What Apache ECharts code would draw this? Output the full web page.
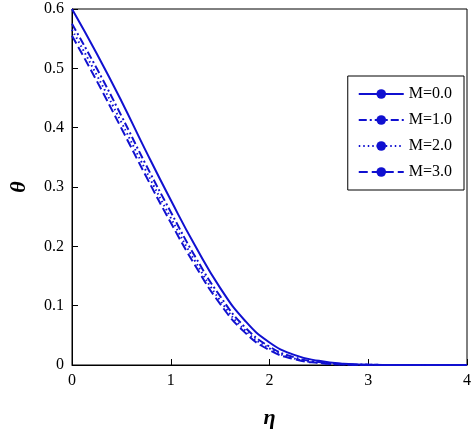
<!DOCTYPE html><html><head><meta charset="utf-8"><script src="https://cdn.jsdelivr.net/npm/echarts@6/dist/echarts.min.js"></script></head><body style="margin:0"><div id="c" style="width:474px;height:434px"></div><script>
const eta=[0,0.25,0.5,0.75,1,1.25,1.5,1.75,2,2.25,2.5,2.75,3,3.5,4];
const names=['M=0.0','M=1.0','M=2.0','M=3.0'];
const m0=[0.600,0.525,0.445,0.360,0.278,0.200,0.130,0.075,0.038,0.017,0.007,0.002,0.0005,0,0];
const m1=[0.575,0.500,0.420,0.337,0.258,0.182,0.116,0.064,0.031,0.013,0.005,0.0015,0.0004,0,0];
const m2=[0.565,0.489,0.409,0.327,0.248,0.174,0.109,0.059,0.028,0.011,0.004,0.001,0.0003,0,0];
const m3=[0.555,0.479,0.399,0.318,0.240,0.167,0.103,0.055,0.025,0.010,0.0035,0.001,0.0003,0,0];
const types=['solid',[8,3,2,3],[1.5,3],[9,4]];
const F='Liberation Serif';
const ch=echarts.init(document.getElementById('c'));
ch.setOption({animation:false,
grid:{left:69,right:5,top:9,bottom:69,show:true,borderColor:'#000',borderWidth:1},
legend:{right:10,top:76,orient:'vertical',itemWidth:45,itemHeight:12,itemGap:10,backgroundColor:'#fff',borderColor:'#000',borderWidth:1,padding:[10,12,10,10],textStyle:{fontFamily:F,fontSize:16,color:'#000'}},
xAxis:{type:'value',min:0,max:4,interval:1,name:'η',nameLocation:'middle',nameGap:42,nameTextStyle:{fontFamily:F,fontSize:22,fontWeight:'bold',fontStyle:'italic',color:'#000'},axisLine:{lineStyle:{color:'#000'}},axisTick:{inside:true,length:6,lineStyle:{color:'#000'}},axisLabel:{fontFamily:F,fontSize:16,color:'#000'},splitLine:{show:false}},
yAxis:{type:'value',min:0,max:0.6,interval:0.1,name:'θ',nameLocation:'middle',nameGap:42,nameRotate:90,nameTextStyle:{fontFamily:F,fontSize:22,fontWeight:'bold',fontStyle:'italic',color:'#000'},axisLine:{lineStyle:{color:'#000'}},axisTick:{inside:true,length:6,lineStyle:{color:'#000'}},axisLabel:{fontFamily:F,fontSize:16,color:'#000',formatter:v=>v===0?'0':v.toFixed(1)},splitLine:{show:false}},
series:[m0,m1,m2,m3].map((d,i)=>({name:names[i],type:'line',smooth:true,symbol:'none',data:eta.map((x,j)=>[x,d[j]]),lineStyle:{color:'#1010d0',width:2,type:types[i]},itemStyle:{color:'#1010d0'}}))
});
</script></body></html>
